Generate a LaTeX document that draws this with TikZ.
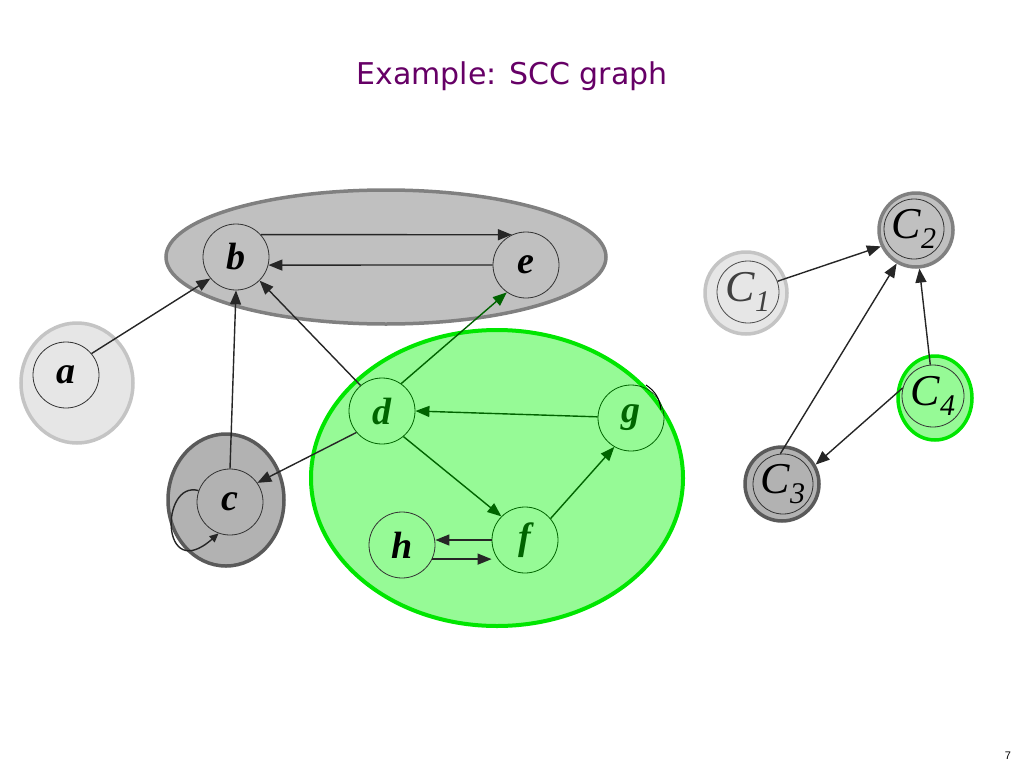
\documentclass[tikz,border=0pt]{standalone}
\usepackage{fontspec}
\setmainfont{Liberation Serif}
\newfontfamily\titlefont{DejaVu Sans}
\newfontfamily\numfont{Liberation Sans}
\usetikzlibrary{arrows.meta,shapes.geometric}
\definecolor{ttl}{RGB}{102,0,102}
\definecolor{grayA}{RGB}{192,192,192}
\definecolor{grayAb}{RGB}{128,128,128}
\definecolor{lightF}{RGB}{230,230,230}
\definecolor{lightB}{RGB}{196,196,196}
\definecolor{darkF}{RGB}{178,178,178}
\definecolor{darkB}{RGB}{90,90,90}
\definecolor{grnF}{RGB}{150,250,150}
\definecolor{grnB}{RGB}{0,230,0}
\definecolor{dgreen}{RGB}{0,100,0}
\newcommand{\csub}[1]{C\raisebox{-10pt}{\fontsize{30}{30}\selectfont #1}}
\begin{document}
\begin{tikzpicture}[x=1pt,y=-1pt,
  vert/.style={circle,draw=black!80,line width=0.8pt,minimum size=66pt,inner sep=0pt,font=\fontsize{38}{38}\selectfont\bfseries\itshape},
  cvert/.style={circle,draw=black!80,line width=0.8pt,minimum size=62pt,inner sep=0pt,font=\fontsize{44}{44}\selectfont\itshape},
  arr/.style={line width=1.4pt,draw=black!85,-{Triangle[length=14pt,width=11pt]}},
  garr/.style={arr,draw=dgreen,-{Triangle[length=14pt,width=11pt,fill=dgreen]}},
  looparr/.style={line width=1.4pt,draw=black!85,-{Triangle[length=9pt,width=8pt]}}]
\useasboundingbox (0,0) rectangle (1024,768);
% title
\node (title) at (512,76) {\titlefont\fontsize{30}{30}\selectfont\color{ttl}Example: SCC graph};
\node (pg) at (1008,756) {\numfont\fontsize{11}{11}\selectfont 7};
% group shapes
\draw[fill=grayA,draw=grayAb,line width=3.5pt] (386,257) ellipse [x radius=220,y radius=67];
\draw[fill=lightF,draw=lightB,line width=3.5pt] (77,383) ellipse [x radius=56,y radius=60];
\draw[fill=darkF,draw=darkB,line width=3.5pt] (226,500) ellipse [x radius=58,y radius=66];
\draw[fill=grnF,draw=grnB,line width=4pt] (497,478) ellipse [x radius=186,y radius=148];
% vertices
\node[vert] (b) at (236,257) {b};
\node[vert] (e) at (526,265) {e};
\node[vert] (a) at (66,375) {a};
\node[vert] (c) at (230,502) {c};
\node[vert,draw=dgreen,text=dgreen] (d) at (382,411) {d};
\node[vert,draw=dgreen,text=dgreen] (g) at (631,418) {g};
\node[vert] (h) at (402,545) {h};
\node[vert,draw=dgreen,text=dgreen] (f) at (525,540) {f};
% stray arc near g
\draw[line width=1pt] (646,385) to[bend left=25] (661,410);
% edges
\draw[arr] (b.42) -- (e.115);
\draw[arr] (e.west) -- (b.346);
\draw[arr] (a.40) -- (b.220);
\draw[arr] (c.90) -- (b.270);
\draw[arr] (d.130) -- (b.315);
\draw[garr] (d.55) -- (e.235);
\draw[arr] (d.220) -- (c.35);
\draw[garr] (g.178) -- (d.0);
\draw[garr] (d.310) -- (f.135);
\draw[garr] (f.40) -- (g.240);
\draw[arr] (f.west) -- (h.east |- f.west);
\draw[arr] (h.335) -- (f.west |- h.335);
\draw[looparr] (c.160) .. controls (160,480) and (160,585) .. (c.250);
% SCC graph
\node[circle,fill=lightF,draw=lightB,line width=3.5pt,minimum size=82pt,inner sep=0pt] (C1o) at (746,293) {};
\node[circle,fill=grayA,draw=grayAb,line width=3.5pt,minimum size=74pt,inner sep=0pt] (C2o) at (916,230) {};
\node[circle,fill=darkF,draw=darkB,line width=3.5pt,minimum size=74pt,inner sep=0pt] (C3o) at (782,484) {};
\node[ellipse,fill=grnF,draw=grnB,line width=3.5pt,minimum width=74pt,minimum height=84pt,inner sep=0pt] (C4o) at (935,398) {};
\node[cvert,draw=black!70,text=black!75] (C1) at (748,292) {\csub{1}};
\node[cvert,minimum size=60pt] (C2) at (914,229) {\csub{2}};
\node[cvert,minimum size=60pt] (C3) at (783,484) {\csub{3}};
\node[cvert,minimum size=62pt] (C4) at (933,396) {\csub{4}};
\draw[arr] (C1.20) -- (C2o.205);
\draw[arr] (C3.95) -- (C2o.240);
\draw[arr] (C4.95) -- (C2o.275);
\draw[arr] (C4.165) -- (C3o.30);
\end{tikzpicture}
\end{document}
